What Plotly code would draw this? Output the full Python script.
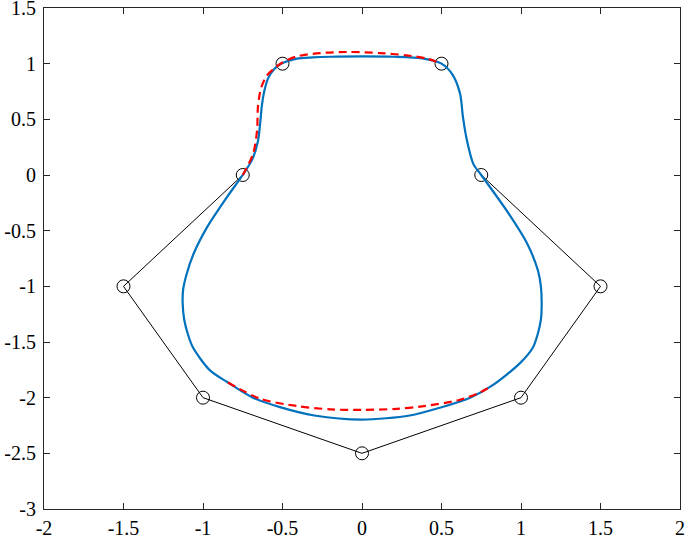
import plotly.graph_objects as go

# control polygon (connected part) and the two free control points
poly_x = [-0.75, -1.5, -1.0, 0.0, 1.0, 1.5, 0.75]
poly_y = [0.0, -1.0, -2.0, -2.5, -2.0, -1.0, 0.0]
top_pts_x = [-0.5, 0.5]
top_pts_y = [1.0, 1.0]

# closed blue curve
curve_x = [0.0, -0.2, -0.31, -0.41, -0.5, -0.55, -0.59, -0.615, -0.63, -0.64,
           -0.655, -0.69, -0.75, -0.85, -0.975, -1.06, -1.105, -1.125, -1.128,
           -1.118, -1.095, -1.063, -0.956, -0.843, -0.686, -0.516, -0.3, 0.0,
           0.3, 0.49, 0.68, 0.82, 0.994, 1.075, 1.105, 1.125, 1.13, 1.125, 1.107,
           1.04, 0.91, 0.75, 0.70, 0.66, 0.635, 0.617, 0.57, 0.5, 0.38, 0.2, 0.0]
curve_y = [1.065, 1.062, 1.056, 1.045, 1.005, 0.955, 0.87, 0.75, 0.62, 0.47,
           0.30, 0.14, 0.0, -0.2, -0.47, -0.71, -0.9, -1.03, -1.15,
           -1.3, -1.43, -1.55, -1.755, -1.864, -2.0, -2.085, -2.16, -2.197,
           -2.16, -2.09, -2.0, -1.89, -1.69, -1.55, -1.43, -1.3, -1.15, -1.0, -0.86,
           -0.62, -0.32, 0.0, 0.10, 0.31, 0.52, 0.73, 0.9, 1.0, 1.047, 1.062, 1.065]

# red dashed pieces
red_top_x = [-0.75, -0.685, -0.66, -0.654, -0.635, -0.6, -0.55, -0.5, -0.41,
             -0.264, -0.094, 0.113, 0.28, 0.41, 0.5]
red_top_y = [0.0, 0.19, 0.40, 0.62, 0.78, 0.89, 0.96, 1.01, 1.065,
             1.095, 1.105, 1.095, 1.075, 1.045, 1.0]
red_bot_x = [-0.843, -0.64, -0.41, -0.2, 0.0, 0.22, 0.365, 0.6, 0.74, 0.82]
red_bot_y = [-1.864, -2.01, -2.075, -2.105, -2.11, -2.10, -2.08, -2.025, -1.955, -1.89]

fig = go.Figure()
fig.add_trace(go.Scatter(x=poly_x, y=poly_y, mode='lines+markers',
                         line=dict(color='black', width=1),
                         marker=dict(symbol='circle-open', size=13, color='black',
                                     line=dict(width=1))))
fig.add_trace(go.Scatter(x=top_pts_x, y=top_pts_y, mode='markers',
                         marker=dict(symbol='circle-open', size=13, color='black',
                                     line=dict(width=1))))
fig.add_trace(go.Scatter(x=curve_x, y=curve_y, mode='lines',
                         line=dict(color='#0072BD', width=2.2, shape='spline', smoothing=0.8)))
fig.add_trace(go.Scatter(x=red_top_x, y=red_top_y, mode='lines',
                         line=dict(color='#FF0000', width=2.2, dash='8px,5px',
                                   shape='spline', smoothing=0.8)))
fig.add_trace(go.Scatter(x=red_bot_x, y=red_bot_y, mode='lines',
                         line=dict(color='#FF0000', width=2.2, dash='8px,5px',
                                   shape='spline', smoothing=0.8)))

axis_style = dict(showgrid=False, zeroline=False, showline=True, linecolor='#262626',
                  linewidth=1, mirror='ticks', ticks='inside', ticklen=6,
                  tickcolor='#262626', automargin=False, ticklabeloverflow='allow',
                  tickfont=dict(family='Liberation Serif', size=20, color='black'))
fig.update_xaxes(range=[-2, 2], tickvals=[-2, -1.5, -1, -0.5, 0, 0.5, 1, 1.5, 2],
                 ticktext=['-2', '-1.5', '-1', '-0.5', '0', '0.5', '1', '1.5', '2'],
                 ticklabelstandoff=1, **axis_style)
fig.update_yaxes(range=[-3, 1.5], tickvals=[-3, -2.5, -2, -1.5, -1, -0.5, 0, 0.5, 1, 1.5],
                 ticktext=['-3', '-2.5', '-2', '-1.5', '-1', '-0.5', '0', '0.5', '1', '1.5'],
                 ticklabelstandoff=3, **axis_style)
fig.update_layout(width=685, height=540, showlegend=False,
                  margin=dict(l=44, r=5, t=8, b=31),
                  paper_bgcolor='white', plot_bgcolor='white')
# page body has a default 8px margin; drop it so the figure sits at the corner
fig.write_html("out.html", config={'displayModeBar': False},
               post_script="document.body.style.margin='0';")
